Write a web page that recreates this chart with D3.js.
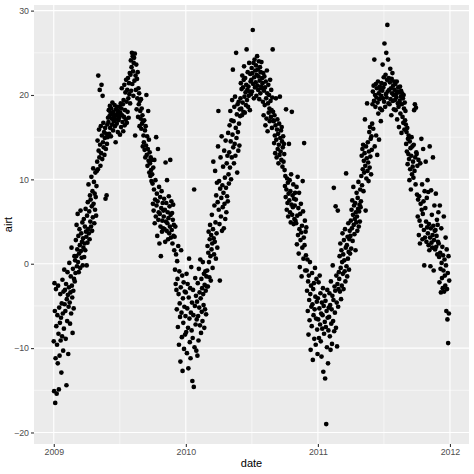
<!DOCTYPE html>
<html>
<head>
<meta charset="utf-8">
<script src="https://cdn.jsdelivr.net/npm/d3@7"></script>
<style>
  body { margin: 0; background: #fff; }
  text { font-family: "Liberation Sans", Arial, sans-serif; }
</style>
</head>
<body>
<svg id="chart" width="474" height="474"></svg>
<script>
// daily air temperature, one value per day from 1 January of each year (one line per month)
var airt2009 = [
  -9.2,-15.1,-2.3,-5.6,-16.5,-11.2,-3.0,-7.4,-15.4,-9.6,-6.1,-11.8,-2.6,-8.3,-14.9,-5.2,-10.9,-7.0,-3.6,-9.1,-6.4,-12.9,-4.7,-8.6,-1.9,-5.9,-10.3,-3.3,-7.7,-0.7,-4.8,
  -3.1,-5.6,-8.9,-2.4,-14.4,-4.2,-6.8,-1.0,-3.7,-10.7,-5.1,-2.8,0.1,-4.6,-7.1,-3.4,-1.5,-5.9,1.9,-2.6,-4.0,-8.2,-0.6,-3.2,-5.3,-1.8,0.9,-2.1,
  0.4,-1.1,2.8,0.9,4.6,-0.3,1.7,5.9,0.2,3.3,-1.0,1.2,4.1,2.2,-0.5,6.3,1.5,3.6,0.7,2.6,4.9,-0.2,3.0,1.9,5.3,0.8,2.4,4.4,1.6,6.5,3.8,
  3.2,-0.2,5.7,2.5,7.3,4.1,9.4,3.6,6.2,2.9,8.1,5.0,7.6,4.4,10.3,6.8,3.9,8.6,5.5,11.3,7.1,9.7,4.8,8.3,6.4,10.8,7.9,5.7,9.2,11.0,
  12.1,14.6,11.2,22.3,13.4,15.9,12.6,20.6,14.1,11.6,16.3,13.1,21.2,15.2,12.4,19.9,14.4,16.7,13.8,15.6,12.9,14.9,16.1,7.7,13.6,15.4,8.1,14.2,16.5,15.0,17.3,
  16.8,18.2,15.4,17.5,18.7,16.1,17.9,15.1,18.4,17.2,16.5,19.1,17.7,15.8,18.0,16.9,17.4,18.8,16.3,17.6,14.4,18.3,17.1,16.6,18.6,17.8,15.6,18.1,17.0,17.5,
  17.3,18.6,15.3,17.9,19.0,16.2,18.4,20.8,17.6,16.8,18.9,15.7,19.4,17.4,21.2,16.4,18.2,20.3,17.1,21.8,19.2,16.7,20.6,18.0,22.0,19.6,17.3,21.4,20.1,22.6,19.0,
  22.4,24.1,20.5,23.3,25.0,21.3,24.6,22.8,19.9,23.8,24.4,21.7,24.9,15.2,22.3,20.6,23.6,18.3,21.9,19.6,22.7,17.4,20.8,18.9,20.2,16.3,19.3,18.1,17.2,19.5,16.0,
  18.4,16.6,17.6,13.9,16.9,15.2,14.4,17.0,13.5,15.8,12.6,16.3,14.0,20.0,12.9,15.1,11.6,13.6,18.1,12.2,14.7,10.8,13.2,11.9,10.4,12.6,11.1,9.8,12.3,10.6,
  9.5,7.1,11.4,6.3,8.8,12.3,4.8,7.6,9.9,5.6,15.0,6.9,8.3,3.3,7.4,13.6,5.2,6.1,9.1,2.4,5.9,7.9,4.4,0.9,6.6,8.6,3.8,5.1,7.2,4.2,6.3,
  5.6,7.7,4.1,6.4,2.6,12.0,5.0,7.2,3.9,9.9,4.8,6.1,2.9,5.4,8.0,3.6,6.8,4.4,12.3,5.8,3.1,7.4,4.0,6.0,2.4,5.2,7.0,3.3,4.6,1.6,
  3.2,-0.7,4.4,-2.4,1.1,-3.1,-5.4,0.3,-1.8,-7.5,2.1,-3.6,-9.6,-0.9,-4.7,-6.3,-11.6,-2.8,1.6,-5.8,-8.7,-1.4,-12.7,-4.1,-7.0,-2.2,-10.1,-5.1,-3.3,-8.4,-6.2
];
var airt2010 = [
  -3.4,-8.1,-1.2,-10.6,-5.3,-2.4,-7.6,-12.4,-4.0,0.6,-6.5,-9.3,-2.9,-11.2,-5.8,-0.4,-7.9,-4.6,-13.9,-8.8,-3.1,-6.1,-14.6,8.8,-9.9,-5.0,-1.7,-7.2,-3.8,-10.3,-6.6,
  -4.5,-10.9,-2.3,-6.2,-9.1,-0.6,-5.2,-3.4,-7.3,0.5,-4.1,-8.2,-1.8,-5.7,-2.9,-6.8,0.2,-3.6,-4.9,-1.2,-7.6,-2.5,-5.4,-0.9,-3.2,-6.0,-1.5,-2.7,
  -0.8,2.1,-2.7,1.3,3.8,0.2,-1.6,2.9,4.6,0.9,-2.0,3.4,1.7,5.8,2.4,-0.5,4.1,12.1,3.0,1.1,6.9,2.6,11.0,4.9,0.6,8.1,3.6,9.6,1.9,7.3,13.9,
  18.1,6.4,9.8,4.7,-2.0,8.9,12.6,5.6,7.8,15.1,3.9,9.3,6.7,11.5,8.4,4.2,13.4,7.1,10.2,5.3,14.6,9.0,6.1,11.9,8.0,12.8,7.4,15.5,10.6,9.5,
  13.2,16.4,11.4,18.1,14.5,10.0,17.0,12.6,19.4,15.3,23.0,13.8,16.9,11.9,18.6,14.2,19.8,12.8,16.1,25.0,14.9,17.7,10.8,18.9,15.6,13.4,19.2,16.6,14.0,18.3,17.5,
  19.6,21.4,18.4,20.7,17.6,22.3,19.1,20.9,18.0,21.8,23.4,19.8,17.9,22.0,20.3,18.8,21.2,25.4,19.4,20.6,22.7,18.6,21.0,19.9,23.8,20.4,18.2,22.5,21.6,20.1,
  21.8,23.2,20.4,22.6,27.7,21.3,23.8,19.6,22.1,24.2,20.9,22.9,21.5,23.5,19.9,22.4,24.6,21.1,23.0,20.6,22.2,24.0,19.5,21.7,23.3,20.2,22.7,21.0,23.9,20.8,22.0,
  21.4,19.2,22.6,17.6,20.5,22.2,18.8,20.9,16.4,21.6,19.6,17.2,22.9,20.2,15.7,19.0,21.2,17.9,20.0,18.4,16.9,21.8,19.3,17.4,20.6,18.2,16.1,19.7,25.4,18.0,17.0,
  16.9,14.3,17.6,15.2,13.1,16.4,19.6,14.7,12.6,15.9,17.1,13.6,15.4,11.9,14.1,16.6,12.9,19.8,14.9,13.3,15.8,12.3,16.2,14.5,11.5,13.8,15.1,12.1,14.2,13.0,
  11.1,9.2,10.4,7.9,18.3,8.8,6.4,10.1,7.2,9.6,5.6,8.3,14.2,7.5,9.9,6.1,8.6,4.9,10.6,7.0,18.0,5.8,8.1,6.7,9.4,4.7,7.7,5.3,6.9,8.4,5.1,
  7.6,4.8,9.1,2.3,5.7,10.3,3.4,6.6,1.2,8.4,4.1,-0.4,5.9,2.8,7.1,3.7,-1.5,4.5,1.9,9.8,6.2,0.6,3.1,14.3,2.2,5.1,-0.8,3.8,1.0,4.3,
  -0.8,-3.2,0.5,-5.6,-2.1,-8.4,-1.4,-4.3,-6.7,0.2,-3.6,-10.2,-2.6,-5.1,-7.4,-1.1,-4.8,-11.4,-3.0,-6.1,-2.3,-8.9,-5.4,-0.5,-3.9,-9.6,-6.5,-1.8,-4.5,-7.8,-10.7
];
var airt2011 = [
  -4.1,-6.6,-2.2,-8.8,-5.3,-1.4,-7.2,-3.5,-9.2,-5.9,-11.0,-4.6,-7.7,-6.1,-2.9,-12.8,-5.0,-8.3,-3.8,-6.9,-13.6,-4.4,-7.5,-19.0,-5.6,-9.9,-3.1,-6.4,-11.8,-7.9,-5.2,
  -6.3,-3.5,-8.6,-4.9,-10.2,-2.1,-7.1,-5.4,-9.5,-3.8,-0.2,-6.8,-4.3,9.0,-8.0,-2.7,-5.8,-3.2,6.8,-7.6,-1.4,-4.6,-9.8,-2.4,6.3,-5.1,-3.0,-1.0,
  -1.8,0.9,-3.3,2.4,-0.5,-4.2,1.6,-2.6,0.2,3.6,-1.2,1.1,-3.0,2.8,0.4,-0.9,4.1,-2.1,1.9,10.7,-0.3,2.2,-1.5,3.2,0.6,4.8,1.4,-0.7,2.9,3.9,1.2,
  3.3,5.1,1.8,6.4,4.2,7.5,2.7,5.8,9.1,4.6,6.9,3.5,5.3,7.2,1.6,6.1,4.9,8.4,5.6,3.9,7.8,6.5,9.7,4.4,6.2,7.0,5.0,8.8,6.7,7.4,
  10.4,12.8,9.3,13.6,11.2,14.1,8.6,12.2,10.8,13.1,17.1,11.6,6.3,13.9,10.1,12.5,19.0,11.0,14.4,12.0,9.8,13.3,15.6,11.4,16.2,12.7,14.8,10.6,15.1,13.5,16.6,
  18.9,20.4,16.0,21.1,19.3,24.2,13.9,20.0,18.6,21.3,15.2,19.7,20.8,12.9,19.1,21.6,17.8,20.2,14.7,19.5,21.0,18.4,20.6,16.9,19.9,21.4,18.2,20.5,23.6,19.6,
  20.9,22.1,19.2,26.1,21.3,18.6,22.4,20.1,25.0,19.7,21.8,28.3,20.4,24.2,19.0,22.0,20.6,18.9,21.5,23.1,19.5,20.8,17.6,21.9,20.2,22.6,19.3,21.1,20.0,18.3,21.6,
  20.6,19.4,21.3,18.2,20.1,19.7,21.6,17.1,20.4,19.0,20.9,18.6,16.2,20.3,19.3,21.0,17.8,19.8,20.5,15.5,18.9,20.2,17.4,19.6,16.7,20.0,18.4,15.9,19.1,17.0,18.1,
  16.5,14.2,15.6,13.3,16.1,11.8,14.8,13.0,15.2,12.4,9.9,14.5,11.2,13.7,8.8,12.8,15.0,10.6,13.9,11.5,12.1,10.2,14.1,18.2,11.0,18.9,12.6,9.4,18.5,13.2,
  13.0,8.2,11.6,5.6,7.6,12.3,3.4,8.0,5.1,2.4,11.9,7.1,4.5,14.8,6.4,9.4,2.9,5.9,13.6,7.4,4.0,-0.2,8.6,3.1,6.6,12.1,5.0,2.6,7.8,4.3,9.9,
  3.6,8.5,2.2,4.7,1.6,13.9,3.1,-0.3,4.2,8.7,2.5,5.8,1.9,3.4,12.6,4.5,-0.8,2.8,6.9,3.9,1.7,4.0,8.3,2.0,3.3,5.2,1.1,4.6,2.6,6.1,
  2.4,0.8,-2.2,6.9,1.3,-0.6,-3.4,4.2,0.1,-1.7,2.0,-2.9,1.0,-0.8,5.6,-3.3,0.5,-1.4,-2.6,3.1,-0.2,-5.6,1.7,-3.0,-6.6,-1.1,-9.4,0.9,-5.9,-2.0,null
];
var years = [2009, 2010, 2011];
var yTickValues = [-20, -10, 0, 10, 20, 30];
var xTickYears = [2009, 2010, 2011, 2012];

var series = [airt2009, airt2010, airt2011];
var data = [];
series.forEach(function(vals, k) {
	vals.forEach(function(v, i) {
		if (v === null) return;
		data.push({ date: new Date(Date.UTC(years[k], 0, 1 + i)), airt: v });
	});
});

var panel = { left: 34, right: 469, top: 5, bottom: 444 };
var svg = d3.select("#chart");

// ggplot style 5% expansion of the data range
var xExt = d3.extent(data, function(d) { return d.date; }),
	yExt = d3.extent(data, function(d) { return d.airt; });
var xPad = (xExt[1] - xExt[0]) * 0.05,
	yPad = (yExt[1] - yExt[0]) * 0.05;

var x = d3.scaleUtc()
	.domain([new Date(+xExt[0] - xPad), new Date(+xExt[1] + xPad)])
	.range([panel.left, panel.right]);
var y = d3.scaleLinear()
	.domain([yExt[0] - yPad, yExt[1] + yPad])
	.range([panel.bottom, panel.top]);

var xTicks = xTickYears.map(function(yr) { return new Date(Date.UTC(yr, 0, 1)); });
var xMinor = d3.pairs(xTicks).map(function(p) { return new Date((+p[0] + +p[1]) / 2); });
var yMinor = d3.pairs(yTickValues).map(function(p) { return (p[0] + p[1]) / 2; });

// panel background
svg.append("rect")
	.attr("x", panel.left).attr("y", panel.top)
	.attr("width", panel.right - panel.left).attr("height", panel.bottom - panel.top)
	.attr("fill", "#ebebeb");

var grid = svg.append("g").attr("stroke", "#fff").attr("fill", "none");
grid.selectAll(".ymin").data(yMinor).enter().append("line")
	.attr("x1", panel.left).attr("x2", panel.right)
	.attr("y1", function(d) { return y(d); }).attr("y2", function(d) { return y(d); })
	.attr("stroke-width", 0.55);
grid.selectAll(".xmin").data(xMinor).enter().append("line")
	.attr("y1", panel.top).attr("y2", panel.bottom)
	.attr("x1", function(d) { return x(d); }).attr("x2", function(d) { return x(d); })
	.attr("stroke-width", 0.55);
grid.selectAll(".ymaj").data(yTickValues).enter().append("line")
	.attr("x1", panel.left).attr("x2", panel.right)
	.attr("y1", function(d) { return y(d); }).attr("y2", function(d) { return y(d); })
	.attr("stroke-width", 1.1);
grid.selectAll(".xmaj").data(xTicks).enter().append("line")
	.attr("y1", panel.top).attr("y2", panel.bottom)
	.attr("x1", function(d) { return x(d); }).attr("x2", function(d) { return x(d); })
	.attr("stroke-width", 1.1);

// points
svg.append("g").selectAll("circle")
	.data(data)
	.enter().append("circle")
	.attr("cx", function(d) { return x(d.date); })
	.attr("cy", function(d) { return y(d.airt); })
	.attr("r", 2.35)
	.attr("fill", "#000");

// axes
var yAxis = svg.append("g")
	.attr("transform", "translate(" + panel.left + ",0)")
	.call(d3.axisLeft(y).tickValues(yTickValues).tickSize(3).tickPadding(2));
var xAxis = svg.append("g")
	.attr("transform", "translate(0," + panel.bottom + ")")
	.call(d3.axisBottom(x).tickValues(xTicks).tickFormat(d3.utcFormat("%Y")).tickSize(3).tickPadding(2));

[yAxis, xAxis].forEach(function(a) {
	a.select(".domain").remove();
	a.selectAll(".tick line").attr("stroke", "#333").attr("stroke-width", 1.1);
	a.selectAll(".tick text")
		.attr("fill", "#4d4d4d")
		.attr("font-size", "8.8px")
		.style("font-family", "'Liberation Sans', Arial, sans-serif");
});

svg.append("text")
	.attr("x", (panel.left + panel.right) / 2)
	.attr("y", 467)
	.attr("text-anchor", "middle")
	.attr("font-size", "11px")
	.attr("fill", "#000")
	.text("date");

svg.append("text")
	.attr("transform", "translate(12," + (panel.top + panel.bottom) / 2 + ") rotate(-90)")
	.attr("text-anchor", "middle")
	.attr("font-size", "11px")
	.attr("fill", "#000")
	.text("airt");
</script>
</body>
</html>
